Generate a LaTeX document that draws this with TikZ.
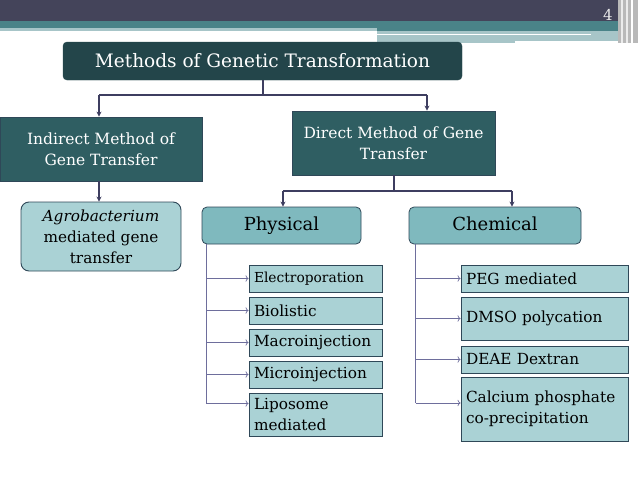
\documentclass[tikz,border=0pt]{standalone}
\usepackage{fontspec}
\setmainfont{DejaVu Serif}
\usetikzlibrary{arrows.meta,positioning}
\definecolor{topbar}{HTML}{44445A}
\definecolor{stripe}{HTML}{4A8388}
\definecolor{band}{HTML}{A7C5C8}
\definecolor{headfill}{HTML}{23454A}
\definecolor{midfill}{HTML}{2F5E62}
\definecolor{catfill}{HTML}{7FB9BE}
\definecolor{leaffill}{HTML}{AAD2D5}
\definecolor{edge}{HTML}{2F4858}
\definecolor{link}{HTML}{3E3E60}
\definecolor{twiglink}{HTML}{6E6E9C}

\tikzset{
  headbox/.style={fill=headfill,draw=headfill,rounded corners=4pt,text=white,
    minimum width=399pt,minimum height=38pt,font=\fontsize{18.5}{22}\selectfont},
  midbox/.style={fill=midfill,draw=edge,line width=0.8pt,text=white,align=center,
    minimum width=202pt,minimum height=64pt,font=\fontsize{15.5}{21}\selectfont},
  catbox/.style={fill=catfill,draw=edge,line width=0.8pt,rounded corners=5pt,
    minimum height=37pt,text height=13pt,text depth=4pt,font=\fontsize{18}{22}\selectfont},
  leafbox/.style={fill=leaffill,draw=edge,line width=0.9pt,align=left,
    inner xsep=5pt,inner ysep=2pt,font=\fontsize{15.3}{21}\selectfont},
  conn/.style={link,line width=2pt},
  twig/.style={twiglink,line width=0.7pt}
}

\begin{document}
\begin{tikzpicture}[x=1pt,y=-1pt]
  \useasboundingbox (0,0) rectangle (638,479);
  % header bands
  \fill[topbar] (0,0) rectangle (638,21);
  \fill[stripe] (0,21) rectangle (638,28);
  \fill[band] (0,28) rectangle (377,31);
  \fill[stripe] (377,28) rectangle (628,31);
  \fill[band] (377,31) rectangle (628,43);
  \fill[white] (377,33.5) rectangle (591,35);
  \fill[white] (515,41) rectangle (625,43);
  \fill[gray!55] (618,0) rectangle (638,43);
  \fill[white!85!gray] (621,0) rectangle (623,43);
  \fill[white!85!gray] (626,0) rectangle (628,43);
  \fill[white] (631,0) rectangle (633,43);
  \node[text=white!85!gray,font=\fontsize{15}{15}\selectfont] (pagenum) at (608,15) {4};

  % main tree
  \node[headbox] (title) at (262.5,61) {Methods of Genetic Transformation};
  \node[midbox] (indirect) at (101,149) {Indirect Method of\\Gene Transfer};
  \node[midbox,minimum width=203pt] (direct) at (393.5,143) {Direct Method of Gene\\Transfer};
  \node[leafbox,align=center,rounded corners=8pt,minimum width=160pt,minimum height=69pt]
    (agro) at (101,236.5) {\textit{Agrobacterium}\\mediated gene\\transfer};
  \node[catbox,minimum width=159pt] (physical) at (281.5,225.5) {Physical};
  \node[catbox,minimum width=172pt] (chemical) at (495,225.5) {Chemical};

  \coordinate (tj) at (262.5,95);
  \coordinate (tl) at (99,95);
  \coordinate (tr) at (427,95);
  \draw[conn] (title.south) -- (tj);
  \draw[conn] (tl) -- (tr);
  \draw[conn,-{Stealth[length=5pt,width=5pt]}] (tl) -- (tl |- indirect.north);
  \draw[conn,-{Stealth[length=5pt,width=5pt]}] (tr) -- (tr |- direct.north);
  \draw[conn,-{Stealth[length=5pt,width=5pt]}] (indirect.south -| tl) -- (agro.north -| tl);

  \coordinate (dj) at (393.5,191);
  \coordinate (dl) at (283,191);
  \coordinate (dr) at (512,191);
  \draw[conn] (direct.south) -- (dj);
  \draw[conn] (dl) -- (dr);
  \draw[conn,-{Stealth[length=5pt,width=5pt]}] (dl) -- (dl |- physical.north);
  \draw[conn,-{Stealth[length=5pt,width=5pt]}] (dr) -- (dr |- chemical.north);

  % physical methods
  \node[leafbox,text width=123pt,minimum height=27pt,font=\fontsize{13.8}{18}\selectfont]
    (electro) at (315.5,278.5) {Electroporation};
  \node[leafbox,text width=123pt,minimum height=27pt] (biolistic) at (315.5,310.5) {Biolistic};
  \node[leafbox,text width=123pt,minimum height=27pt] (macro) at (315.5,342.5) {Macroinjection};
  \node[leafbox,text width=123pt,minimum height=27pt] (micro) at (315.5,374.5) {Microinjection};
  \node[leafbox,text width=123pt,minimum height=43pt] (lipo) at (315.5,414.5) {Liposome\\mediated};

  % chemical methods
  \node[leafbox,text width=157pt,minimum height=27pt] (peg) at (544.5,278.5) {PEG mediated};
  \node[leafbox,text width=157pt,minimum height=43pt] (dmso) at (544.5,318.5) {DMSO polycation};
  \node[leafbox,text width=157pt,minimum height=27pt] (deae) at (544.5,359.5) {DEAE Dextran};
  \node[leafbox,text width=157pt,minimum height=64pt] (calcium) at (544.5,409) {Calcium phosphate\\co-precipitation};

  \coordinate (lipoin) at ([yshift=11pt]lipo.west);
  \coordinate (calcin) at ([yshift=6pt]calcium.west);
  \draw[twig] ([xshift=5pt]physical.south west) coordinate (pv) -- (pv |- lipoin);
  \draw[twig] ([xshift=7pt]chemical.south west) coordinate (cv) -- (cv |- calcin);
  \foreach \n in {electro,biolistic,macro,micro}
    \draw[twig,-{To[length=3pt]}] (pv |- \n.west) -- (\n.west);
  \draw[twig,-{To[length=3pt]}] (pv |- lipoin) -- (lipoin);
  \foreach \n in {peg,dmso,deae}
    \draw[twig,-{To[length=3pt]}] (cv |- \n.west) -- (\n.west);
  \draw[twig,-{To[length=3pt]}] (cv |- calcin) -- (calcin);
\end{tikzpicture}
\end{document}
